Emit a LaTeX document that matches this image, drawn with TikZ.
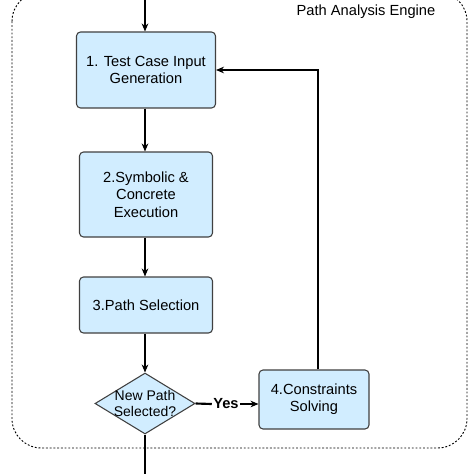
\documentclass[tikz,border=0pt]{standalone}
\usepackage{fontspec}
\setmainfont{Liberation Sans}
\usetikzlibrary{shapes.geometric,arrows.meta}
\tikzset{
  stepbox/.style={draw=black!75, fill=blue!40!cyan!18, rounded corners=3pt, line width=0.8pt, align=center, font=\fontsize{11}{13}\selectfont, inner sep=0pt},
  flow/.style={-{Stealth[length=6pt,width=5pt]}, line width=0.8pt},
}
\begin{document}
\begin{tikzpicture}[x=0.75pt,y=0.75pt,yscale=-1,xscale=1]
    \useasboundingbox (0,0) rectangle (474,474);

    % Engine frame
    \draw [line width=0.7pt, dash pattern=on 1.4pt off 1.4pt, rounded corners=22pt] (12,-8) rectangle (467,448);
    \node [anchor=east, font=\fontsize{11}{13}\selectfont] (title) at (440,12) {Path Analysis Engine};

    % Steps
    \node [stepbox, minimum width=104.25pt, minimum height=57pt] (gen) at (146,70) {1. Test Case Input\\Generation};
    \node [stepbox, minimum width=99.75pt, minimum height=63.75pt] (exec) at (146,194.5) {2.Symbolic \&\\Concrete\\Execution};
    \node [stepbox, minimum width=99.75pt, minimum height=42pt] (sel) at (146,305) {3.Path Selection};
    \node [stepbox, rounded corners=0pt, diamond, minimum width=75pt, minimum height=45.75pt] (dec) at (145,403.5) {};
    \node [align=center, font=\fontsize{10.5}{12.5}\selectfont, inner sep=0pt] (dectext) at (dec) {New Path\\Selected?};
    \node [stepbox, minimum width=82.5pt, minimum height=44.25pt] (cons) at (314,399.5) {4.Constraints\\Solving};

    % Connectors
    \coordinate (in) at (145,0);
    \coordinate (out) at (145,474);
    \draw [flow] (in) -- (gen.north -| in);
    \draw [flow] (gen.south -| in) -- (exec.north -| in);
    \draw [flow] (exec.south -| in) -- (sel.north -| in);
    \draw [flow] (sel.south -| in) -- (dec.north);
    \draw [line width=1.6pt] (dec.south) -- (out);
    \node [fill=white, inner sep=1pt, font=\fontsize{11}{13}\selectfont\bfseries] (yes) at (226,404) {Yes};
    \draw [line width=1.6pt] (dec.east) -- (yes.west);
    \draw [flow] (yes.east) -- (cons.west |- yes);
    \draw [flow] ([xshift=3pt]cons.north) |- (gen.east);

\end{tikzpicture}
\end{document}
